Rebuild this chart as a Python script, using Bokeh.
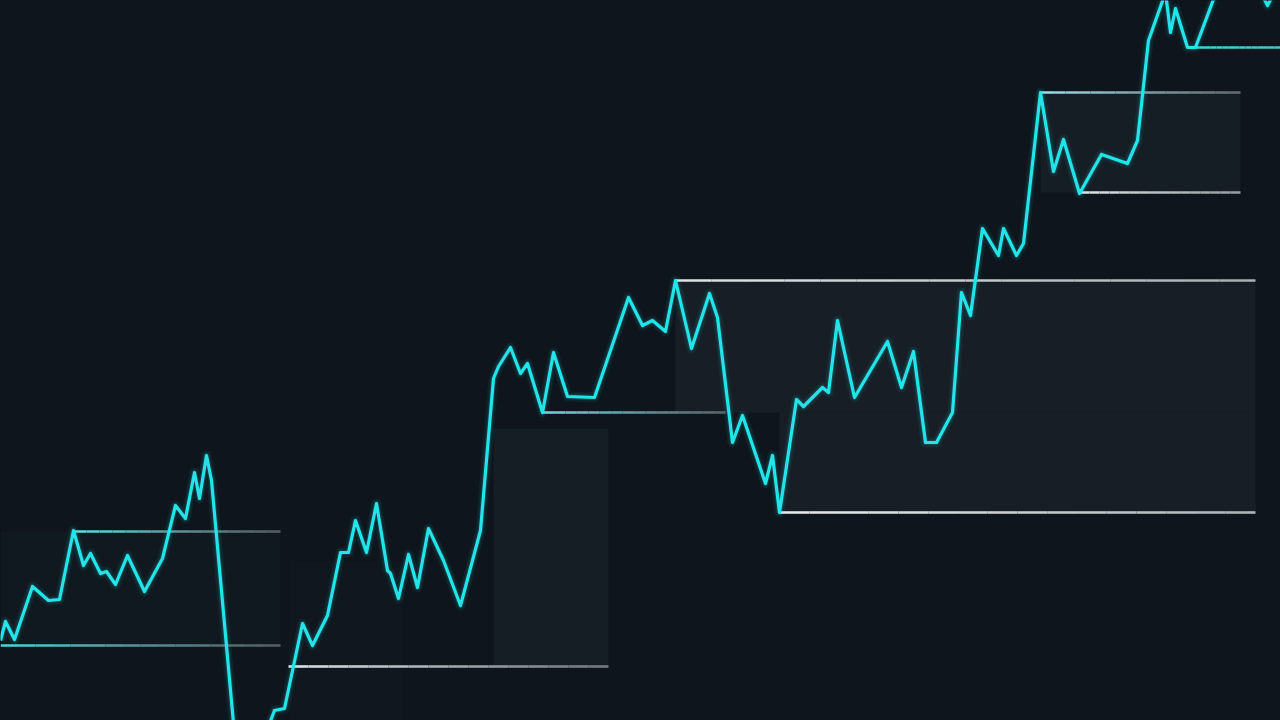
from bokeh.plotting import figure
from bokeh.models import Range1d
from bokeh.embed import file_html
from bokeh.resources import INLINE

# ---- data (time index, price level) ----
t = [0, 5, 14, 32, 48, 59, 73, 83, 90, 100, 106, 115, 127, 144, 162, 175, 185, 194, 199, 206, 211,
     240, 274, 284, 302, 312, 327, 340, 348, 355, 366, 376, 387, 390, 398, 408, 417, 428, 443, 460,
     480, 493, 498, 510, 520, 527, 542, 553, 567, 594, 628, 642, 652, 665, 675, 691, 709, 717, 732,
     742, 765, 772, 779, 796, 803, 822, 828, 837, 854, 887, 901, 913, 925, 936, 952, 961, 970, 982,
     998, 1003, 1016, 1023, 1040, 1053, 1063, 1079, 1101, 1127, 1137, 1148, 1165, 1170, 1175, 1187,
     1195, 1235, 1267, 1285]
price = [80, 99, 81, 134, 120, 121, 190, 155, 167, 147, 149, 136, 165, 129, 162, 215, 202, 248, 222,
         265, 240, -80, 10, 12, 97, 75, 105, 168, 168, 200, 168, 217, 150, 147, 122, 166, 133, 192,
         160, 115, 190, 342, 354, 373, 347, 357, 308, 368, 324, 323, 423, 395, 400, 389, 440, 372,
         427, 403, 278, 305, 237, 265, 208, 321, 314, 333, 328, 400, 323, 379, 333, 369, 278, 278,
         308, 428, 405, 492, 465, 492, 465, 477, 628, 549, 581, 527, 566, 557, 580, 680, 728, 688,
         712, 673, 673, 780, 715, 750]

# support / resistance zones
zone_left = [0, 288, 542, 675, 1040, 1187]
zone_right = [280, 608, 725, 1255, 1240, 1280]
zone_top = [189, None, None, 440, 628, None]
zone_top_start = [73, None, None, 675, 1040, None]
zone_bottom = [75, 54, 308, 208, 528, 673]
zone_bottom_start = [0, 288, 542, 779, 1079, 1187]

# shaded boxes
box_left = [0, 493, 288, 675, 779, 1040]
box_right = [280, 608, 403, 1255, 1255, 1240]
box_top = [189, 292, 160, 440, 308, 628]
box_bottom = [75, 54, 0, 308, 208, 528]
box_alpha = [0.22, 0.45, 0.15, 0.5, 0.5, 0.45]

BG = "#0e151c"
CYAN = "#22e4e9"

p = figure(width=1280, height=720, output_backend="svg", toolbar_location=None,
           x_range=Range1d(0, 1280), y_range=Range1d(0, 720), min_border=0)
p.axis.visible = False
p.grid.visible = False
p.outline_line_color = None
p.background_fill_color = BG
p.border_fill_color = BG

# boxes
p.quad(left=box_left, right=box_right, top=box_top, bottom=box_bottom,
       fill_color="#1f2830", fill_alpha=box_alpha, line_color=None)


def mix(c1, c2, f):
    a = [int(c1[i:i + 2], 16) for i in (1, 3, 5)]
    b = [int(c2[i:i + 2], 16) for i in (1, 3, 5)]
    return "#%02x%02x%02x" % tuple(round(a[k] + (b[k] - a[k]) * f) for k in range(3))


def grad_line(x0, x1, y, c0, c1, a0, a1, n=16):
    xs, ys, cs, als = [], [], [], []
    for i in range(n):
        f0 = i / n
        f1 = (i + 1) / n
        xs.append([x0 + (x1 - x0) * f0, x0 + (x1 - x0) * f1])
        ys.append([y, y])
        cs.append(mix(c0, c1, (f0 + f1) / 2))
        als.append(a0 + (a1 - a0) * (f0 + f1) / 2)
    p.multi_line(xs=xs, ys=ys, line_color=cs, line_alpha=als, line_width=2.6)


top_style = [("#5ee0e6", "#8a9298", 1.0, 0.55), None, None,
             ("#dfe6ea", "#c3c9cd", 1.0, 0.85), ("#9ee2e8", "#9aa2a8", 1.0, 0.6), None]
bot_style = [("#4fd6de", "#8a9298", 1.0, 0.55), ("#e2e6ea", "#9aa0a4", 1.0, 0.7),
             ("#6ad8de", "#8a9298", 1.0, 0.6), ("#e6eaee", "#c8ced2", 1.0, 0.85),
             ("#e0e6ea", "#b6bcc0", 1.0, 0.8), ("#3ad8e0", "#5ad2da", 1.0, 0.9)]

for i in range(len(zone_left)):
    if zone_top[i] is not None:
        c0, c1, a0, a1 = top_style[i]
        grad_line(zone_top_start[i], zone_right[i], zone_top[i], c0, c1, a0, a1)
    c0, c1, a0, a1 = bot_style[i]
    grad_line(zone_bottom_start[i], zone_right[i], zone_bottom[i], c0, c1, a0, a1)

# price line with glow
p.line(t, price, line_color=CYAN, line_width=10, line_alpha=0.07, line_join="round")
p.line(t, price, line_color=CYAN, line_width=5.5, line_alpha=0.14, line_join="round")
p.line(t, price, line_color=CYAN, line_width=3.2, line_join="round")

html = file_html(p, INLINE)
html = html.replace("<head>", "<head><style>html, body { background: #0e151c; margin: 0; overflow: hidden; }</style>", 1)
open("out.html", "w").write(html)
